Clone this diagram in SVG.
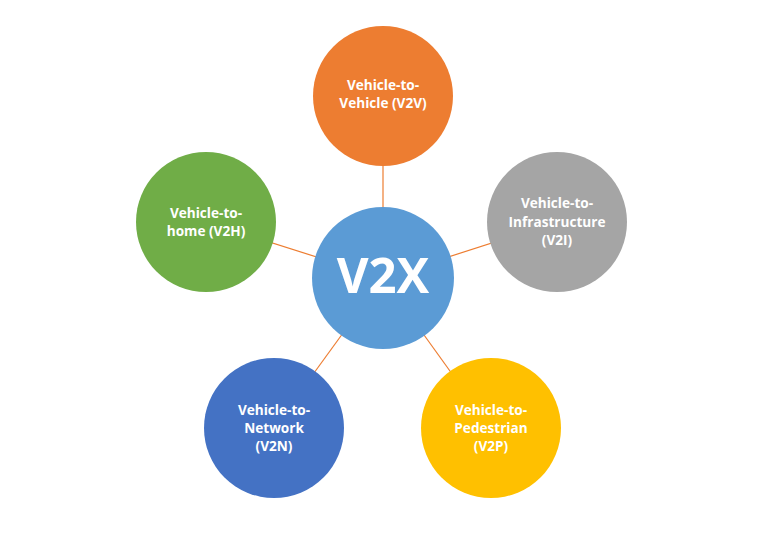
<svg xmlns="http://www.w3.org/2000/svg" width="768" height="548" viewBox="0 0 768 548">
<style>
.lbl{font-family:"Open Sans","Liberation Sans",sans-serif;font-weight:bold;font-size:13.6px;fill:#ffffff;text-anchor:middle}
.big{font-family:"Open Sans","Liberation Sans",sans-serif;font-weight:bold;font-size:49px;fill:#ffffff;text-anchor:middle}
.conn{stroke:#ED7D31;stroke-width:1.2;fill:none}
</style>
<rect width="768" height="548" fill="#ffffff"/>
<g id="connectors">
<line class="conn" x1="383" y1="278" x2="383" y2="96"/>
<line class="conn" x1="383" y1="278" x2="557" y2="222"/>
<line class="conn" x1="383" y1="278" x2="206" y2="222"/>
<line class="conn" x1="383" y1="278" x2="274" y2="428"/>
<line class="conn" x1="383" y1="278" x2="491" y2="428"/>
</g>
<g id="v2v">
<circle cx="383" cy="96" r="70" fill="#ED7D31"/>
<text class="lbl" x="383" y="90">Vehicle-to-</text>
<text class="lbl" x="383" y="108">Vehicle (V2V)</text>
</g>
<g id="v2i">
<circle cx="557" cy="222" r="70" fill="#A5A5A5"/>
<text class="lbl" x="557" y="208">Vehicle-to-</text>
<text class="lbl" x="557" y="227">Infrastructure</text>
<text class="lbl" x="557" y="245">(V2I)</text>
</g>
<g id="v2h">
<circle cx="206" cy="222" r="70" fill="#70AD47"/>
<text class="lbl" x="206" y="218">Vehicle-to-</text>
<text class="lbl" x="206" y="236">home (V2H)</text>
</g>
<g id="v2n">
<circle cx="274" cy="428" r="70" fill="#4472C4"/>
<text class="lbl" x="274" y="415">Vehicle-to-</text>
<text class="lbl" x="274" y="433">Network</text>
<text class="lbl" x="274" y="451">(V2N)</text>
</g>
<g id="v2p">
<circle cx="491" cy="428" r="70" fill="#FFC000"/>
<text class="lbl" x="491" y="415">Vehicle-to-</text>
<text class="lbl" x="491" y="433">Pedestrian</text>
<text class="lbl" x="491" y="451">(V2P)</text>
</g>
<g id="v2x">
<circle cx="383" cy="278" r="71" fill="#5B9BD5"/>
<text class="big" x="383" y="293">V2X</text>
</g>
</svg>
